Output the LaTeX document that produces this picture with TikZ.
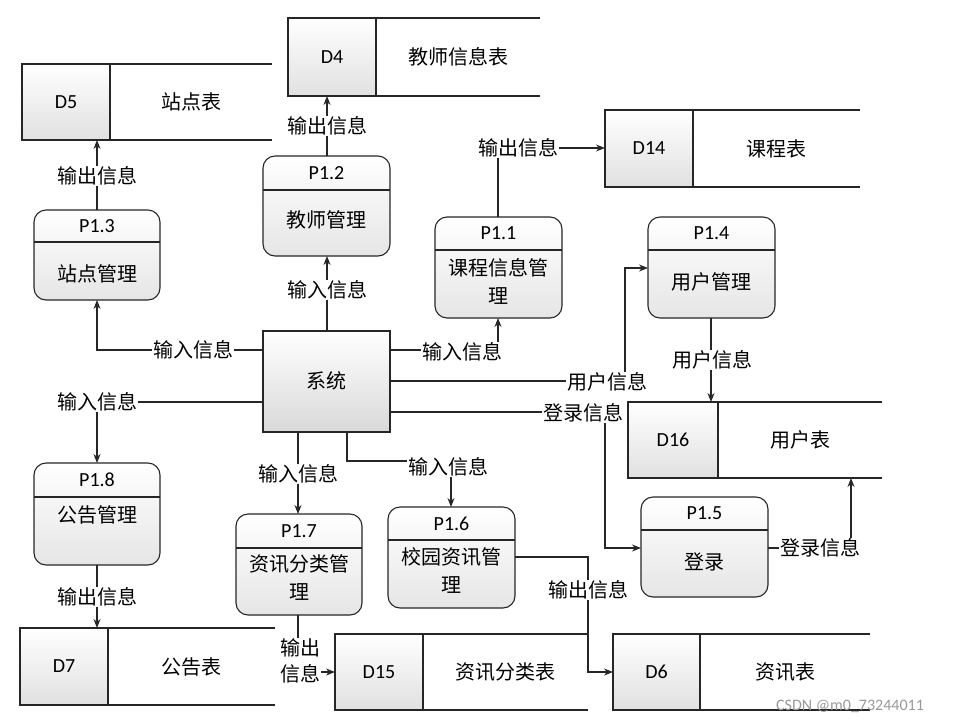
\documentclass[tikz,border=0pt]{standalone}
\usepackage{fontspec}
\setmainfont{Carlito}
\newfontfamily\cjk{Noto Sans CJK SC}
\usetikzlibrary{arrows.meta}
\begin{document}
\begin{tikzpicture}[x=1pt,y=-1pt,
  line/.style={draw=black!85,line width=1.1pt},
  arr/.style={line,-{Stealth[length=9pt,width=7pt]}},
  lab/.style={fill=white,inner sep=1pt,font=\cjk\fontsize{20}{22}\selectfont},
  txt/.style={font=\cjk\fontsize{20}{28}\selectfont,align=center},
  idt/.style={font=\fontsize{20}{22}\selectfont}]
\useasboundingbox (0,0) rectangle (954,724);
% data stores: x1 x2 x3 ytop ybot
\newcommand\mystore[8]{%
  \fill[top color=white,bottom color=black!12] (#1,#4) rectangle (#2,#5);
  \draw[line] (#3,#4) -- (#1,#4) -- (#1,#5) -- (#3,#5);
  \draw[line] (#2,#4) -- (#2,#5);
  \node[idt] (#6) at ({(#1+#2)/2},{(#4+#5)/2}) {#7};
  \node[txt] (#6n) at ({(#2+#3)/2},{(#4+#5)/2}) {#8};}
\mystore{22}{110}{272}{64}{140}{d5}{D5}{站点表}
\mystore{288}{376}{540}{18}{96}{d4}{D4}{教师信息表}
\mystore{605}{693}{860}{110}{187}{d14}{D14}{课程表}
\mystore{628}{718}{882}{402}{478}{d16}{D16}{用户表}
\mystore{20}{108}{275}{628}{705}{d7}{D7}{公告表}
\mystore{335}{423}{588}{634}{710}{d15}{D15}{资讯分类表}
\mystore{613}{700}{870}{634}{710}{d6}{D6}{资讯表}
% processes: x1 x2 ytop ybot yhead name id text ytext
\newcommand\myproc[9]{%
  \draw[line,rounded corners=12pt,top color=white,bottom color=black!10] (#1,#3) rectangle (#2,#4);
  \draw[line] (#1,#5) -- (#2,#5);
  \node[idt] (#6id) at ({(#1+#2)/2},{(#3+#5)/2}) {#7};
  \node[txt] (#6) at ({(#1+#2)/2},#9) {#8};}
\myproc{34}{160}{210}{300}{242}{p13}{P1.3}{站点管理}{274}
\myproc{263}{390}{156}{256}{190}{p12}{P1.2}{教师管理}{220}
\myproc{435}{562}{217}{318}{250}{p11}{P1.1}{课程信息管\\理}{281}
\myproc{648}{775}{217}{318}{250}{p14}{P1.4}{用户管理}{282}
\myproc{34}{160}{463}{565}{497}{p18}{P1.8}{公告管理}{515}
\myproc{236}{362}{514}{615}{548}{p17}{P1.7}{资讯分类管\\理}{578}
\myproc{388}{515}{507}{608}{540}{p16}{P1.6}{校园资讯管\\理}{570}
\myproc{641}{768}{497}{597}{530}{p15}{P1.5}{登录}{562}
\fill[top color=white,bottom color=black!15] (263,331) rectangle (390,432);
\draw[line] (263,331) rectangle (390,432);
\node[txt] (sys) at (326,381) {系统};
% connectors
\draw[arr] (263,350) -- (97,350) -- (97,300);
\node[lab] at (193,350) {输入信息};
\draw[arr] (97,210) -- (97,140); \node[lab] at (97,176) {输出信息};
\draw[arr] (327,331) -- (327,256); \node[lab] at (327,290) {输入信息};
\draw[arr] (327,156) -- (327,96); \node[lab] at (327,126) {输出信息};
\draw[arr] (390,350) -- (498,350) -- (498,318); \node[lab] at (462,352) {输入信息};
\draw[arr] (498,217) -- (498,148) -- (605,148); \node[lab] at (518,148) {输出信息};
\draw[arr] (390,381) -- (625,381) -- (625,268) -- (648,268); \node[lab] at (607,382) {用户信息};
\draw[arr] (711,318) -- (711,402); \node[lab] at (712,360) {用户信息};
\draw[arr] (390,412) -- (605,412) -- (605,548) -- (641,548); \node[lab] at (583,413) {登录信息};
\draw[arr] (768,548) -- (851,548) -- (851,478); \node[lab] at (820,548) {登录信息};
\draw[arr] (263,402) -- (97,402) -- (97,463); \node[lab] at (97,402) {输入信息};
\draw[arr] (97,565) -- (97,628); \node[lab] at (97,597) {输出信息};
\draw[arr] (298,432) -- (298,514); \node[lab] at (298,474) {输入信息};
\draw[arr] (347,432) -- (347,461) -- (451,461) -- (451,507); \node[lab] at (448,467) {输入信息};
\draw[arr] (298,615) -- (298,672) -- (335,672);
\node[lab,align=center,font=\cjk\fontsize{20}{26}\selectfont] at (300,661) {输出\\信息};
\draw[arr] (515,557) -- (588,557) -- (588,672) -- (613,672); \node[lab] at (588,590) {输出信息};
\node[font=\fontsize{16}{18}\selectfont,text=black!40] (wm) at (850,706) {CSDN @m0\_73244011};
\end{tikzpicture}
\end{document}
